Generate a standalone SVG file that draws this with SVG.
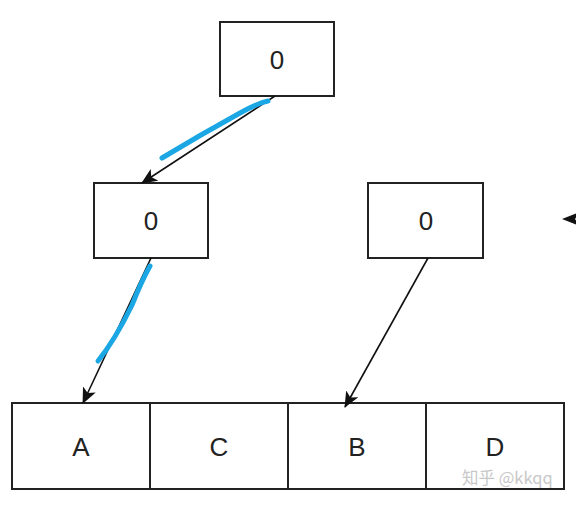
<svg xmlns="http://www.w3.org/2000/svg" width="576" height="506" viewBox="0 0 576 506">
<style>
.box{fill:#fff;stroke:#222;stroke-width:2}
.lbl{font-family:"Liberation Sans",Arial,sans-serif;font-size:26px;fill:#222;text-anchor:middle}
.edge{stroke:#111;stroke-width:1.6;fill:none;marker-end:url(#ah)}
.hl{stroke:#1ba6e4;stroke-width:5;fill:none;stroke-linecap:round}
</style>
<defs>
<marker id="ah" markerWidth="16" markerHeight="14" refX="15" refY="7" orient="auto" markerUnits="userSpaceOnUse" viewBox="0 0 16 14">
<path d="M0,0 L16,7 L0,14 L4,7 Z" fill="#111"/>
</marker>
</defs>
<rect width="576" height="506" fill="#fff"/>
<g id="root"><rect class="box" x="220" y="22" width="114" height="74"/><text class="lbl" x="277" y="69">0</text></g>
<g id="left"><rect class="box" x="94" y="183" width="114" height="75"/><text class="lbl" x="151" y="230">0</text></g>
<g id="right"><rect class="box" x="368" y="183" width="115" height="75"/><text class="lbl" x="426" y="230">0</text></g>
<g id="array">
<rect class="box" x="12" y="403" width="552" height="86"/>
<line x1="150" y1="403" x2="150" y2="489" stroke="#222" stroke-width="2"/>
<line x1="288" y1="403" x2="288" y2="489" stroke="#222" stroke-width="2"/>
<line x1="426" y1="403" x2="426" y2="489" stroke="#222" stroke-width="2"/>
<text class="lbl" x="81" y="456">A</text>
<text class="lbl" x="219" y="456">C</text>
<text class="lbl" x="357" y="456">B</text>
<text class="lbl" x="495" y="456">D</text>
</g>
<g id="connectors">
<line class="edge" x1="275" y1="96" x2="142" y2="183"/>
<line class="edge" x1="151" y1="258" x2="83" y2="403"/>
<line class="edge" x1="428" y1="258" x2="345" y2="407"/>
<path d="M562,219 L580,212 L575,219 L580,226 Z" fill="#111"/>
<path class="hl" d="M268,101 Q258,103 240,113 Q200,135 162,158"/>
<path class="hl" d="M150,266 Q142,280 132,305 Q115,340 98,361"/>
</g>
<text x="462" y="484" font-family="'Noto Sans CJK SC','Liberation Sans',sans-serif" font-size="16.5" fill="#c8c8c8">知乎 @kkqq</text>
</svg>
